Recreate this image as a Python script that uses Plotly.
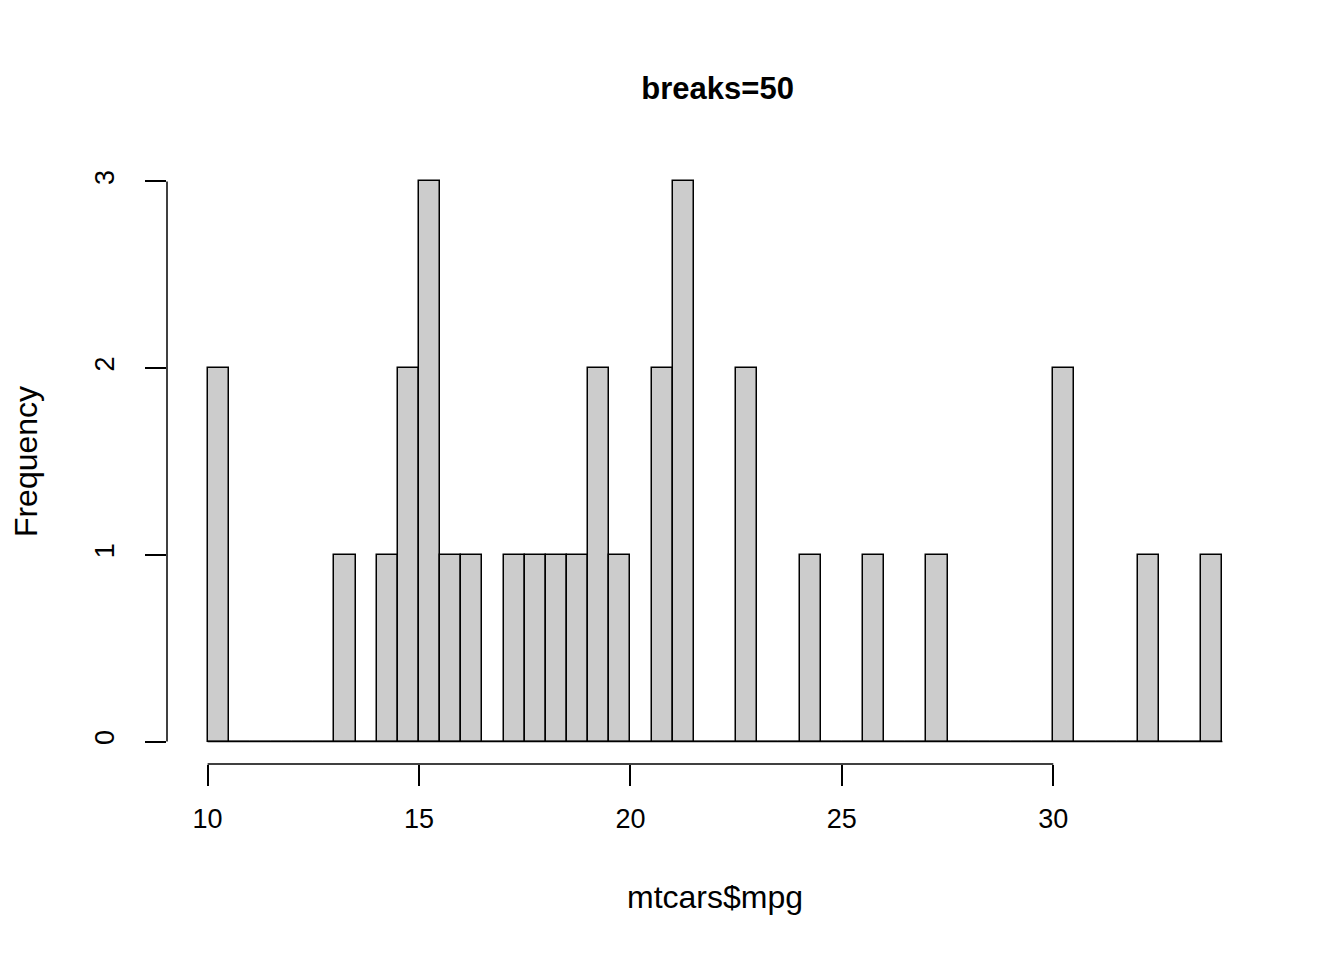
import plotly.graph_objects as go

bin_left = [10+0.5*i for i in range(48)]
counts = [0]*48
nonzero = {10.0:2, 13.0:1, 14.0:1, 14.5:2, 15.0:3, 15.5:1, 16.0:1, 17.0:1, 17.5:1,
           18.0:1, 18.5:1, 19.0:2, 19.5:1, 20.5:2, 21.0:3, 22.5:2, 24.0:1, 25.5:1,
           27.0:1, 30.0:2, 32.0:1, 33.5:1}
for i, b in enumerate(bin_left):
    counts[i] = nonzero.get(b, 0)
x_ticks = [10, 15, 20, 25, 30]
y_ticks = [0, 1, 2, 3]
width = 0.5
centers = [b + width/2 for b in bin_left]

font = "Liberation Sans, Arial, sans-serif"
fig = go.Figure()
fig.add_trace(go.Bar(x=centers, y=counts, width=width,
                     marker=dict(color="#cccccc", line=dict(color="black", width=1.5))))
fig.add_trace(go.Scatter(x=[bin_left[0], bin_left[-1]+width], y=[0, 0], mode="lines",
                         line=dict(color="black", width=1.5)))
fig.add_shape(type="line", xref="x", yref="paper", x0=x_ticks[0], x1=x_ticks[-1], y0=0, y1=0,
              line=dict(color="black", width=1.5))
fig.add_shape(type="line", xref="paper", yref="y", x0=0, x1=0, y0=y_ticks[0], y1=y_ticks[-1],
              line=dict(color="black", width=1.5))

fig.update_layout(
    width=1344, height=960, showlegend=False, plot_bgcolor="white", paper_bgcolor="white",
    margin=dict(l=149, r=89, t=151, b=204),
    font=dict(family=font, size=27, color="black"),
    title=dict(text="<b>breaks=50</b>", x=0.528, xanchor="center", y=0.917, yanchor="middle",
               font=dict(size=31)),
    bargap=0,
)
fig.update_xaxes(range=[9.04, 34.96], tickvals=x_ticks, ticks="outside", ticklen=21, tickwidth=1.5,
                 tickcolor="black", showgrid=False, zeroline=False, showline=False,
                 ticklabelstandoff=10,
                 title=dict(text="mtcars$mpg", standoff=52))
fig.update_yaxes(range=[-0.12, 3.12], tickvals=y_ticks, ticks="outside", ticklen=21, tickwidth=1.5,
                 tickcolor="black", showgrid=False, zeroline=False, showline=False, tickangle=-90,
                 ticklabelstandoff=20,
                 title=dict(text="Frequency", standoff=48))
fig.write_html("out.html")
